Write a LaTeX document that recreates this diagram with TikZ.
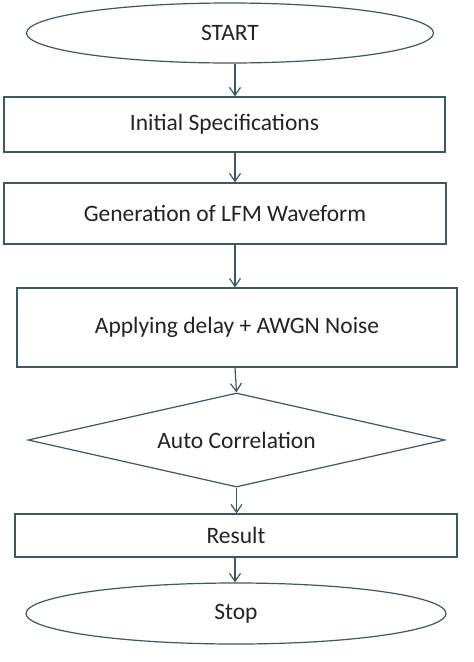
\documentclass[tikz,border=0pt]{standalone}
\usepackage{fontspec}
\setmainfont{Carlito}
\usetikzlibrary{shapes.geometric,arrows.meta}
\definecolor{edge}{RGB}{62,88,98}
\definecolor{txt}{RGB}{35,35,35}
\begin{document}
\begin{tikzpicture}[x=1pt,y=-1pt,
  base/.style={draw=edge,line width=1.2pt,inner sep=0pt,text=txt,font=\fontsize{23.5}{28}\selectfont},
  term/.style={base,ellipse},
  procbox/.style={base,rectangle},
  decide/.style={base,diamond,aspect=4.4},
  arr/.style={draw=edge,line width=1.2pt,-{Straight Barb[length=8pt,width=11pt,line width=1.2pt]}}]
\useasboundingbox (0,0) rectangle (474,662);
\fill[white] (0,0) rectangle (474,662);
\node[term,minimum width=407pt,minimum height=60pt] (start) at (230,33) {START};
\node[procbox,minimum width=441pt,minimum height=55pt] (b1) at (224.5,124.5) {Initial Specifications};
\node[procbox,minimum width=442pt,minimum height=61pt] (b2) at (225,213.5) {Generation of LFM Waveform};
\node[procbox,minimum width=440pt,minimum height=79pt] (b3) at (237,327.5) {Applying delay + AWGN Noise};
\node[decide,minimum width=417pt,minimum height=94pt] (dec) at (236.5,440) {Auto Correlation};
\node[procbox,minimum width=442pt,minimum height=43pt] (res) at (236,535.5) {Result};
\node[term,minimum width=420pt,minimum height=61pt] (stop) at (236,613.5) {Stop};
\coordinate (axis) at (235,0);
\draw[arr] (start.south -| axis) -- (b1.north -| axis);
\draw[arr] (b1.south -| axis) -- (b2.north -| axis);
\draw[arr] (b2.south -| axis) -- (b3.north -| axis);
\draw[arr] (b3.south -| axis) -- (dec.north);
\draw[arr] (dec.south) -- (res.north -| dec.south);
\draw[arr] (res.south -| axis) -- (stop.north -| axis);
\end{tikzpicture}
\end{document}
